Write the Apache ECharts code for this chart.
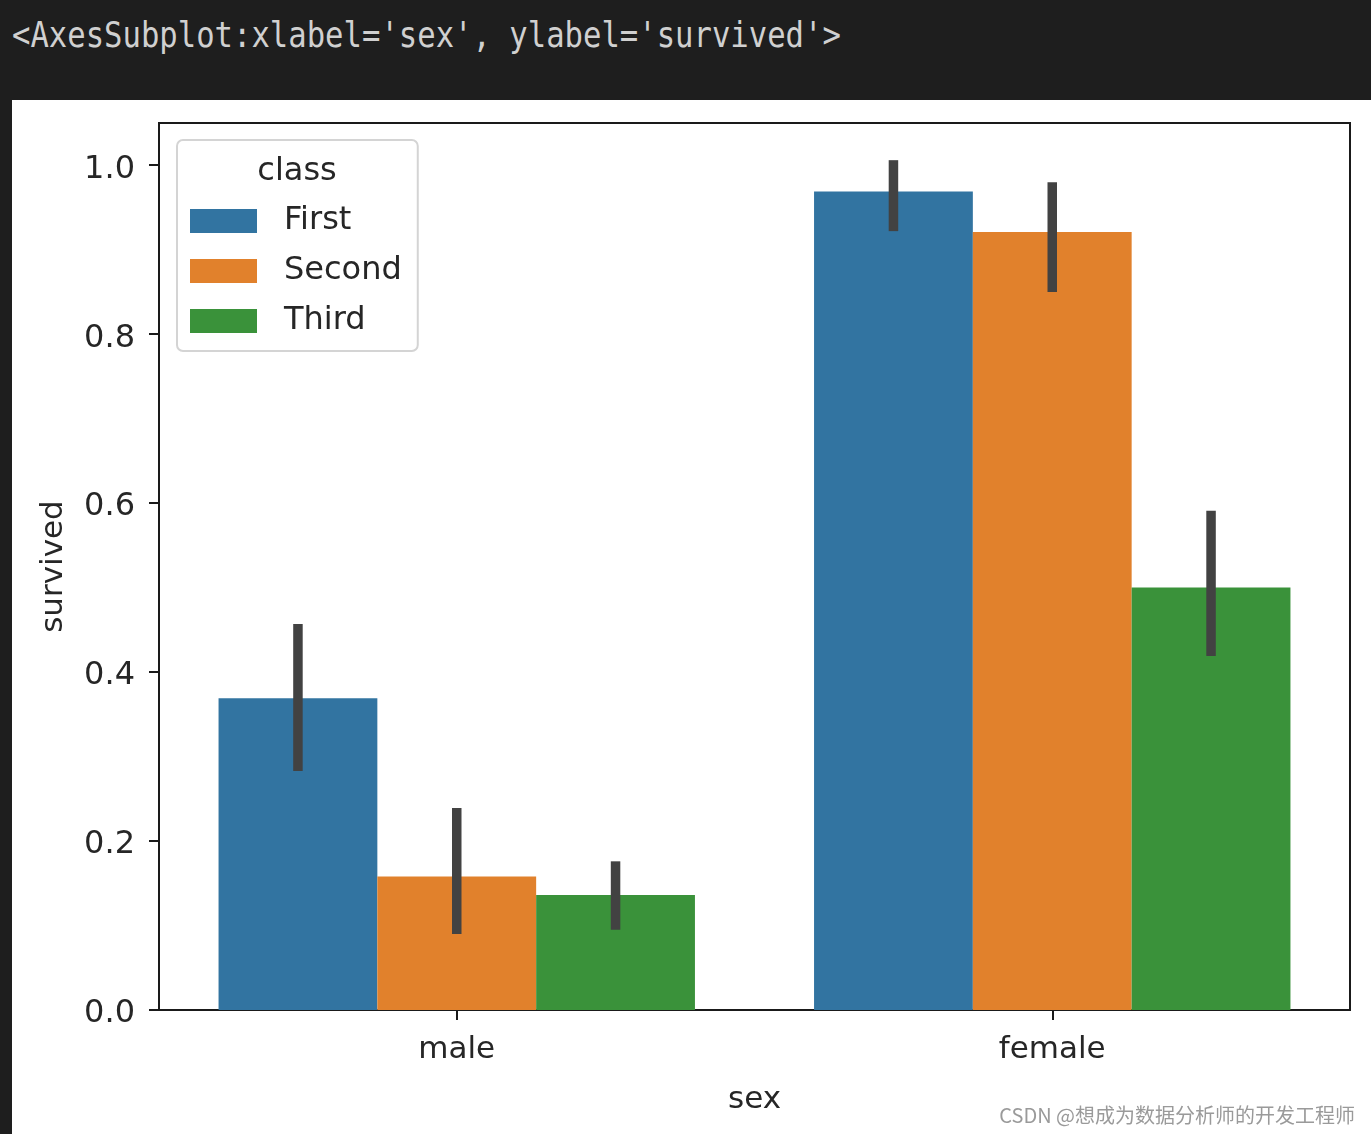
<!DOCTYPE html>
<html><head><meta charset="utf-8">
<script src="https://cdn.jsdelivr.net/npm/echarts@6/dist/echarts.min.js"></script>
<style>
html,body{margin:0;padding:0;background:#1e1e1e;width:1371px;height:1134px;overflow:hidden;}
#hdr{position:absolute;left:12px;top:15px;font-family:"DejaVu Sans Mono",monospace;font-size:30.6px;line-height:40px;color:#d0d0d0;white-space:pre;transform:scaleY(1.15);transform-origin:0 50%;}
#chart{position:absolute;left:12px;top:100px;width:1359px;height:1034px;background:#ffffff;}
</style></head><body>
<div id="hdr"></div>
<div id="chart"></div>
<script>
// ---- data ----
const headerText = "<AxesSubplot:xlabel='sex', ylabel='survived'>";
const categories = ['male', 'female'];
const classes = ['First', 'Second', 'Third'];
const survivedFirst  = [0.369, 0.969];
const survivedSecond = [0.158, 0.921];
const survivedThird  = [0.136, 0.500];
const ciLowFirst   = [0.283, 0.922];
const ciHighFirst  = [0.457, 1.006];
const ciLowSecond  = [0.090, 0.850];
const ciHighSecond = [0.239, 0.980];
const ciLowThird   = [0.095, 0.419];
const ciHighThird  = [0.176, 0.591];
const yTicks = [0, 0.2, 0.4, 0.6, 0.8, 1.0];
const xLabel = 'sex';
const yLabel = 'survived';
const legendTitle = 'class';
const watermark = 'CSDN @想成为数据分析师的开发工程师';

// ---- style ----
const palette = ['#3274a1', '#e1812c', '#3a923a'];
const FONT = '"DejaVu Sans", sans-serif';
const INK = '#262626';

document.getElementById('hdr').textContent = headerText;

const values = [survivedFirst, survivedSecond, survivedThird];
const lows = [ciLowFirst, ciLowSecond, ciLowThird];
const highs = [ciHighFirst, ciHighSecond, ciHighThird];

const chart = echarts.init(document.getElementById('chart'), null, {renderer: 'canvas'});

const barSeries = classes.map((c, k) => ({
  name: c,
  type: 'bar',
  data: values[k],
  barGap: '0%',
  barCategoryGap: '20%',
  itemStyle: {color: palette[k]},
  emphasis: {disabled: true},
  z: 2
}));

const errSeries = classes.map((c, k) => ({
  name: 'ci-' + c,
  type: 'custom',
  z: 5,
  silent: true,
  data: categories.map((cat, i) => [i, lows[k][i], highs[k][i]]),
  renderItem: function (params, api) {
    const band = api.size([1, 0])[0];
    const bw = band * 0.8 / 3;
    const off = (k - 1) * bw;
    const p1 = api.coord([api.value(0), api.value(1)]);
    const p2 = api.coord([api.value(0), api.value(2)]);
    return {
      type: 'line',
      shape: {x1: p1[0] + off, y1: p1[1], x2: p2[0] + off, y2: p2[1]},
      style: {stroke: '#424242', lineWidth: 9.5, lineCap: 'butt'}
    };
  }
}));

chart.setOption({
  animation: false,
  backgroundColor: '#ffffff',
  grid: {left: 147, top: 23, right: 21, bottom: 124, show: true, borderColor: '#1a1a1a', borderWidth: 2, backgroundColor: 'transparent'},
  xAxis: {
    type: 'category',
    data: categories,
    name: xLabel,
    nameLocation: 'middle',
    nameGap: 74,
    nameTextStyle: {fontFamily: FONT, fontSize: 31, color: INK},
    axisLine: {show: true, lineStyle: {color: '#1a1a1a', width: 2}},
    axisTick: {show: true, alignWithLabel: true, interval: 0, length: 10, lineStyle: {color: '#1a1a1a', width: 2}},
    axisLabel: {fontFamily: FONT, fontSize: 31, color: INK, margin: 24},
    splitLine: {show: false}
  },
  yAxis: {
    type: 'value',
    min: 0,
    max: 1.05,
    interval: 0.2,
    name: yLabel,
    nameLocation: 'middle',
    nameGap: 90,
    nameTextStyle: {fontFamily: FONT, fontSize: 31, color: INK},
    axisLine: {show: true, lineStyle: {color: '#1a1a1a', width: 2}},
    axisTick: {show: true, length: 10, customValues: yTicks, lineStyle: {color: '#1a1a1a', width: 2}},
    axisLabel: {fontFamily: FONT, fontSize: 32, color: INK, margin: 24, customValues: yTicks,
      formatter: v => '{t|' + Number(v).toFixed(1) + '}',
      rich: {t: {fontFamily: FONT, fontSize: 32, color: INK, padding: [8, 0, 0, 0]}}},
    splitLine: {show: false}
  },
  legend: {
    data: classes,
    orient: 'vertical',
    left: 165,
    top: 40,
    padding: [65, 16, 14, 13],
    itemWidth: 67,
    itemHeight: 24,
    itemGap: 18,
    icon: 'rect',
    backgroundColor: 'rgba(255,255,255,0.8)',
    borderColor: '#d4d4d4',
    borderWidth: 2,
    borderRadius: 6,
    selectedMode: false,
    textStyle: {fontFamily: FONT, fontSize: 32, color: INK, padding: [0, 0, 0, 22]}
  },
  graphic: [
    {type: 'text', z: 100, x: 285, y: 72,
     style: {text: legendTitle, font: '32px "DejaVu Sans", sans-serif', fill: INK, textAlign: 'center', textVerticalAlign: 'middle'}},
    {type: 'text', z: 100, x: 1343, y: 1015,
     style: {text: watermark, font: '20px "Noto Sans CJK SC", sans-serif', fill: '#9a9a9a', textAlign: 'right', textVerticalAlign: 'middle'}}
  ],
  series: barSeries.concat(errSeries)
});
</script>
</body></html>
